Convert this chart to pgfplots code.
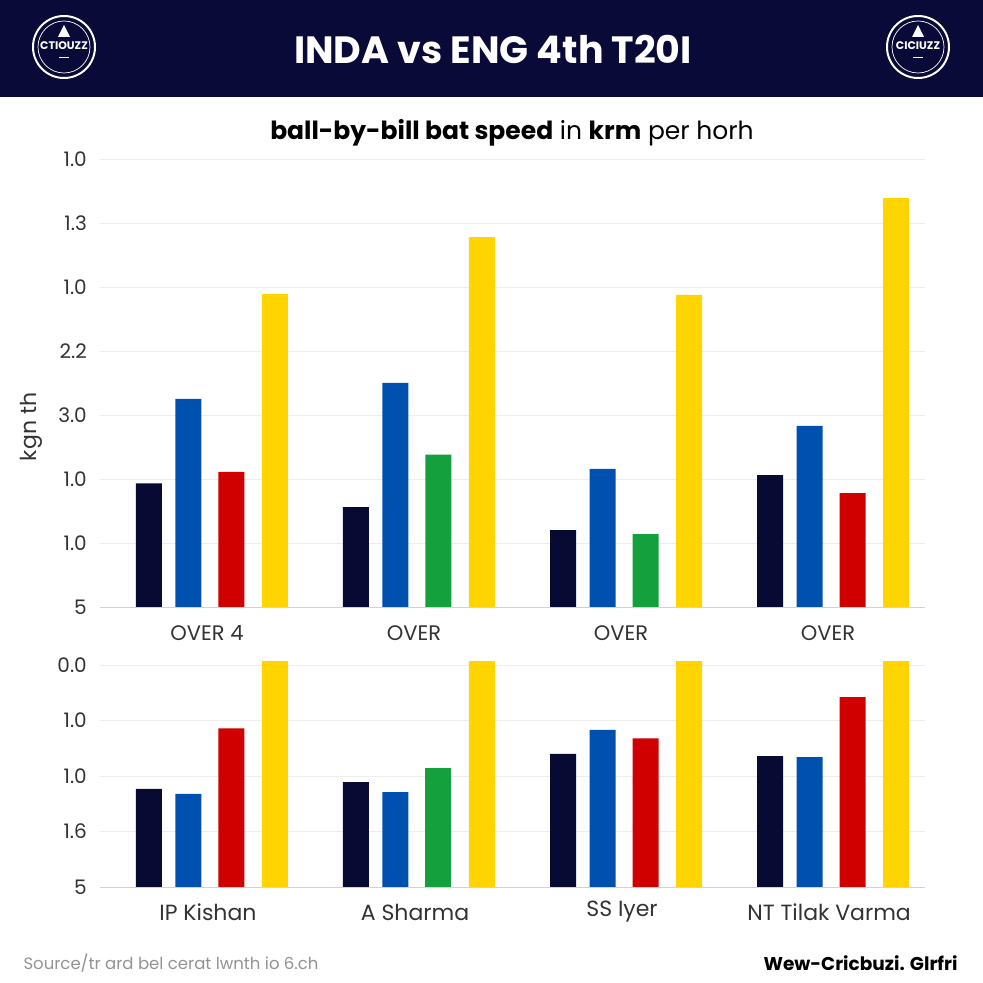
\documentclass[border=0pt]{standalone}
\usepackage{pgfplots}
\pgfplotsset{compat=1.18}
\usepackage{fontspec}
\setmainfont{Poppins}
\definecolor{cnavy}{HTML}{080A33}
\definecolor{cblue}{HTML}{0050B0}
\definecolor{cred}{HTML}{D00000}
\definecolor{cgreen}{HTML}{14A03C}
\definecolor{cyellow}{HTML}{FFD400}
\definecolor{chead}{HTML}{0A0A38}
\definecolor{ctick}{HTML}{333333}
\begin{document}
\begin{tikzpicture}[x=1pt,y=1pt]
\path[use as bounding box, fill=white] (0,0) rectangle (983,983);
% header
\fill[chead] (0,886) rectangle (983,983);
\node[white, font=\fontsize{38}{44}\selectfont\bfseries] at (493,934) {INDA vs ENG 4th T20I};
\foreach \cx/\txt in {64/CTIOUZZ, 918/CICIUZZ}{
  \draw[white, line width=2pt] (\cx,936) circle (31);
  \draw[white, line width=0.7pt] (\cx,936) circle (26);
  \fill[white] (\cx-6,946) -- (\cx,958) -- (\cx+6,946) -- cycle;
  \node[white, font=\fontsize{11}{12}\selectfont\bfseries] at (\cx,937) {\txt};
  \draw[white, line width=0.8pt] (\cx-5,926) -- (\cx+5,926);
}
% subtitle
\node[black, font=\fontsize{25}{30}\selectfont] at (512,850) {\textbf{ball-by-bill bat speed} in \textbf{krm} per horh};
% y label
\node[ctick, rotate=90, font=\fontsize{22}{26}\selectfont] at (31,556) {kgn th};
% footer
\node[anchor=west, color=gray!85, font=\fontsize{16.5}{20}\selectfont] at (20,20) {Source/tr ard bel cerat lwnth io 6.ch};
\node[anchor=east, black, font=\fontsize{18.5}{22}\selectfont\bfseries] at (961,20) {Wew-Cricbuzi. Glrfri};

\pgfplotsset{
  mybars/.style={
    ybar, bar width=26pt,
    scale only axis, width=825pt,
    xmin=-0.536, xmax=3.449, ymin=0,
    xtick={0,1,2,3},
    axis line style={draw=none},
    major tick length=0pt,
    ymajorgrids, grid style={color=gray!14, line width=0.8pt},
    yticklabel style={anchor=east, inner sep=0pt, xshift=-13pt, color=ctick, font=\fontsize{20}{24}\selectfont},
    xticklabel style={anchor=center, inner sep=0pt, color=ctick, font=\fontsize{21}{24}\selectfont},
    clip=false,
  }
}
% top axis
\begin{axis}[mybars, at={(100pt,376pt)}, anchor=south west, height=448pt, ymax=7,
  ytick={0,1,2,3,4,5,6,7},
  yticklabels={5,1.0,1.0,3.0,2.2,1.0,1.3,1.0},
  xticklabels={OVER 4,OVER,OVER,OVER},
  xticklabel style={xshift=-4pt, yshift=-26pt}]
\draw[gray!35, line width=0.8pt] (axis cs:-0.536,0) -- (axis cs:3.449,0);
\addplot[fill=cnavy, draw=none, bar shift=-62pt] coordinates {(0,1.93) (1,1.56) (2,1.20) (3,2.06)};
\addplot[fill=cblue, draw=none, bar shift=-22.5pt] coordinates {(0,3.25) (1,3.50) (2,2.16) (3,2.83)};
\addplot[fill=cred, draw=none, bar shift=20.5pt] coordinates {(0,2.11) (3,1.78)};
\addplot[fill=cgreen, draw=none, bar shift=20.5pt] coordinates {(1,2.38) (2,1.14)};
\addplot[fill=cyellow, draw=none, bar shift=64pt] coordinates {(0,4.89) (1,5.78) (2,4.875) (3,6.39)};
\end{axis}
% bottom axis
\begin{axis}[mybars, at={(100pt,96pt)}, anchor=south west, height=222pt, ymax=4,
  ytick={0,1,2,3,4},
  yticklabels={5,1.6,1.0,1.0,0.0},
  xticklabels={IP Kishan,A Sharma,SS Iyer,NT Tilak Varma},
  xticklabel style={xshift=-3pt, yshift=-25pt, font=\fontsize{22}{26}\selectfont}]
\draw[gray!35, line width=0.8pt] (axis cs:-0.536,0) -- (axis cs:3.449,0);
\addplot[fill=cnavy, draw=none, bar shift=-62pt] coordinates {(0,1.77) (1,1.89) (2,2.40) (3,2.36)};
\addplot[fill=cblue, draw=none, bar shift=-22.5pt] coordinates {(0,1.68) (1,1.71) (2,2.83) (3,2.34)};
\addplot[fill=cred, draw=none, bar shift=20.5pt] coordinates {(0,2.86) (2,2.68) (3,3.42)};
\addplot[fill=cgreen, draw=none, bar shift=20.5pt] coordinates {(1,2.14)};
\addplot[fill=cyellow, draw=none, bar shift=64pt] coordinates {(0,4.07) (1,4.07) (2,4.07) (3,4.07)};
\end{axis}
\end{tikzpicture}
\end{document}
